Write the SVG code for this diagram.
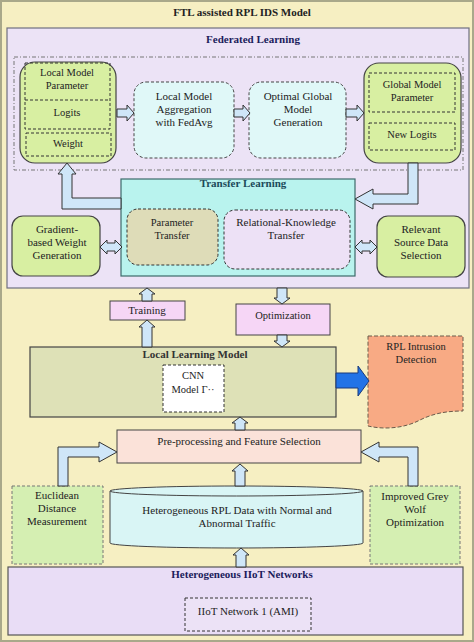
<svg xmlns="http://www.w3.org/2000/svg" width="474" height="642" viewBox="0 0 474 642">
<style>
text{font-family:"Liberation Serif","Times New Roman",serif;font-size:10.5px;fill:#222;text-anchor:middle}
.l{font-size:11px}
.t{font-weight:bold;font-size:11px}
.nav{fill:#1c1c5c}
.arr{fill:#cfe6f8;stroke:#333;stroke-width:1}
.green{fill:#d8efa2;stroke:#444;stroke-width:1.2}
.dash{fill:none;stroke:#333;stroke-width:1;stroke-dasharray:3,2}
.cyan{fill:#e0f8f8;stroke:#444;stroke-width:1;stroke-dasharray:3,2}
</style>
<defs>
<clipPath id="tlclip"><rect x="121" y="180" width="234" height="20"/></clipPath>
</defs>
<rect x="1" y="1" width="472" height="640" fill="#f6efc2" stroke="#a9a88a" stroke-width="2"/>
<text class="t" x="242" y="16">FTL assisted RPL IDS Model</text>

<g id="federated-learning">
<rect x="7" y="28" width="462" height="260" fill="#ece3f6" stroke="#6f6f80" stroke-width="1.2"/>
<text class="t nav" x="253" y="43">Federated Learning</text>
<rect x="14" y="57" width="449" height="113" fill="none" stroke="#777" stroke-width="1" stroke-dasharray="4,2,1,2"/>
</g>

<g id="local-params">
<rect x="20" y="62" width="96" height="101" rx="15" class="green"/>
<rect x="25" y="63" width="85" height="66" class="dash"/>
<line x1="25" y1="100" x2="110" y2="100" class="dash"/>
<rect x="26" y="133" width="85" height="23" class="dash"/>
<text x="67" y="76">Local Model</text>
<text x="67" y="89">Parameter</text>
<text x="67" y="116">Logits</text>
<text x="68" y="147">Weight</text>
</g>

<g id="aggregation">
<rect x="134" y="82" width="100" height="76" rx="12" class="cyan"/>
<text class="l" x="184" y="100">Local Model</text>
<text class="l" x="184" y="113">Aggregation</text>
<text class="l" x="184" y="126">with FedAvg</text>
</g>

<g id="optimal-global">
<rect x="249" y="82" width="97" height="76" rx="12" class="cyan"/>
<text class="l" x="298" y="100">Optimal Global</text>
<text class="l" x="298" y="113">Model</text>
<text class="l" x="298" y="126">Generation</text>
</g>

<g id="global-params">
<rect x="364" y="63" width="97" height="100" rx="15" class="green"/>
<rect x="369" y="73" width="86" height="39" class="dash"/>
<rect x="369" y="123" width="86" height="27" class="dash"/>
<text x="412" y="88">Global Model</text>
<text x="412" y="101">Parameter</text>
<text x="412" y="138">New Logits</text>
</g>

<g id="transfer-learning">
<rect x="121" y="179" width="234" height="97" fill="#b9f3ee" stroke="#3c6a6a" stroke-width="1.2"/>
<text class="t" x="243" y="187" clip-path="url(#tlclip)" style="fill:#1c4a5a">Transfer Learning</text>
</g>

<g id="parameter-transfer">
<rect x="127" y="209" width="91" height="56" rx="11" fill="#dedcb8" stroke="#333" stroke-width="1" stroke-dasharray="3,2"/>
<text x="172" y="226">Parameter</text>
<text x="172" y="239">Transfer</text>
</g>

<g id="relational-transfer">
<rect x="224" y="210" width="126" height="59" rx="11" fill="#ede1f6" stroke="#333" stroke-width="1" stroke-dasharray="3,2"/>
<text class="l" x="286" y="226">Relational-Knowledge</text>
<text class="l" x="286" y="239">Transfer</text>
</g>

<g id="gradient-weight">
<rect x="12" y="216" width="88" height="60" rx="11" class="green"/>
<text class="l" x="57" y="233">Gradient-</text>
<text class="l" x="57" y="246">based Weight</text>
<text class="l" x="57" y="259">Generation</text>
</g>

<g id="relevant-source">
<rect x="377" y="216" width="88" height="61" rx="11" class="green"/>
<text class="l" x="421" y="233">Relevant</text>
<text class="l" x="421" y="246">Source Data</text>
<text class="l" x="421" y="259">Selection</text>
</g>

<g id="training">
<rect x="110" y="301" width="75" height="19" fill="#f6d6f6" stroke="#444" stroke-width="1"/>
<text class="l" x="147" y="314">Training</text>
</g>

<g id="optimization">
<rect x="236" y="304" width="94" height="31" fill="#f6d6f6" stroke="#444" stroke-width="1"/>
<text x="283" y="319">Optimization</text>
</g>

<g id="local-learning">
<rect x="30" y="347" width="306" height="70" fill="#dee1b7" stroke="#444" stroke-width="1.2"/>
<text class="t" x="195" y="358" style="fill:#333">Local Learning Model</text>
<rect x="163" y="365" width="61" height="47" fill="#fff" stroke="#333" stroke-width="1" stroke-dasharray="3,2"/>
<text x="193" y="379">CNN</text>
<text x="193" y="393">Model Γ··</text>
</g>

<g id="rpl-detection">
<path d="M368,336 H463 V411 C445,411 432,414 420,420 C405,428 385,430 368,426 Z" fill="#f8aa84" stroke="#6a5a4a" stroke-width="1" stroke-dasharray="4,2"/>
<text x="416" y="350">RPL Intrusion</text>
<text x="416" y="363">Detection</text>
</g>

<g id="preprocessing">
<rect x="117" y="430" width="244" height="33" fill="#fbe2d9" stroke="#444" stroke-width="1"/>
<text class="l" x="239" y="445">Pre-processing and Feature Selection</text>
</g>

<g id="euclidean">
<rect x="12" y="486" width="91" height="78" fill="#d5efb2" stroke="#777" stroke-width="1" stroke-dasharray="3,2"/>
<text class="l" x="57" y="499">Euclidean</text>
<text class="l" x="57" y="512">Distance</text>
<text class="l" x="57" y="525">Measurement</text>
</g>

<g id="grey-wolf">
<rect x="370" y="486" width="90" height="78" fill="#d5efb2" stroke="#777" stroke-width="1" stroke-dasharray="3,2"/>
<text class="l" x="415" y="500">Improved Grey</text>
<text class="l" x="415" y="513">Wolf</text>
<text class="l" x="415" y="526">Optimization</text>
</g>

<g id="rpl-data">
<path d="M110,491 V543 A126.5,5 0 0 0 363,543 V491 Z" fill="#d9f5f5" stroke="#444" stroke-width="1"/>
<ellipse cx="236.5" cy="491" rx="126.5" ry="5" fill="#d9f5f5" stroke="#444" stroke-width="1"/>
<text class="l" x="237" y="514">Heterogeneous RPL Data with Normal and</text>
<text class="l" x="237" y="527">Abnormal Traffic</text>
</g>

<g id="iiot-networks">
<rect x="8" y="567" width="455" height="68" fill="#e9ddf6" stroke="#555" stroke-width="1.2"/>
<text class="t nav" x="242" y="578">Heterogeneous IIoT Networks</text>
<rect x="185" y="598" width="126" height="33" fill="#ece2f6" stroke="#333" stroke-width="1" stroke-dasharray="3,2"/>
<text class="l" x="248" y="615">IIoT Network 1 (AMI)</text>
</g>

<g id="connectors">
<path class="arr" d="M117,109 H127 V105 L134,113 L127,121 V117 H117 Z"/>
<path class="arr" d="M234,109 H243 V105 L250,113 L243,121 V117 H234 Z"/>
<path class="arr" d="M346,109 H357 V105 L364,113 L357,121 V117 H346 Z"/>
<path class="arr" d="M62,209 V174 H58 L67,163 L76,174 H72 V198 H121 V209 Z"/>
<path class="arr" d="M408,163 V194 H373 V189 L355,199 L373,209 V204 H418 V163 Z"/>
<path class="arr" d="M100,247 L107,240 V243 H115 V240 L122,247 L115,254 V251 H107 V254 Z"/>
<path class="arr" d="M355,247 L362,240 V243 H370 V240 L377,247 L370,254 V251 H362 V254 Z"/>
<path class="arr" d="M142,301 V294 H139 L147,288 L155,294 H152 V301 Z"/>
<path class="arr" d="M142,347 V327 H139 L147,320 L155,327 H152 V347 Z"/>
<path class="arr" d="M277,288 V298 H274 L282,304 L290,298 H287 V288 Z"/>
<path class="arr" d="M277,335 V341 H274 L282,347 L290,341 H287 V335 Z"/>
<path d="M336,373 H358 V366 L369,381 L358,396 V388 H336 Z" fill="#2273e6" stroke="#1a3a7a" stroke-width="1"/>
<path class="arr" d="M235,430 V423 H232 L240,417 L248,423 H245 V430 Z"/>
<path class="arr" d="M235,486 V471 H232 L240,464 L248,471 H245 V486 Z"/>
<path class="arr" d="M236,567 V555 H233 L241,548 L249,555 H246 V567 Z"/>
<path class="arr" d="M58,486 V447 H99 V442 L117,452 L99,462 V457 H68 V486 Z"/>
<path class="arr" d="M418,486 V447 H379 V442 L361,452 L379,462 V457 H408 V486 Z"/>
</g>
</svg>
